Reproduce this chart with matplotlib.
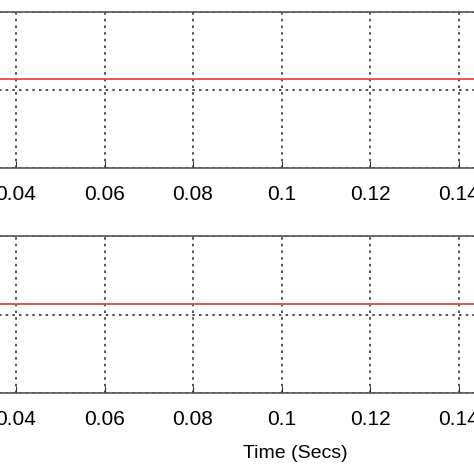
import matplotlib
matplotlib.use("Agg")
import matplotlib.pyplot as plt

t = [0.0, 0.15]
signal_top = [1.14, 1.14]
signal_bottom = [1.14, 1.14]
xticks = [0.0, 0.02, 0.04, 0.06, 0.08, 0.1, 0.12, 0.14]
xticklabels = ["0", "0.02", "0.04", "0.06", "0.08", "0.1", "0.12", "0.14"]

plt.rcParams['font.family'] = ['Liberation Sans', 'DejaVu Sans']
W = 474.0
fig = plt.figure(figsize=(4.74, 4.74), dpi=100)
pxx = 88.5 / 0.02
left_px = 16 - 0.04 * pxx
width_px = 0.15 * pxx

def make(top, bottom, y):
    ax = fig.add_axes([left_px / W, 1 - bottom / W, width_px / W, (bottom - top) / W])
    ax.plot(t, y, color='#e8474a', lw=1.3, zorder=3)
    ax.set_xlim(0, 0.15)
    ax.set_ylim(0, 2)
    ax.set_yticks([0, 1, 2])
    ax.set_xticks(xticks)
    ax.set_xticklabels(xticklabels, fontsize=15)
    ax.grid(True, linestyle=(0, (1.5, 2.5)), color='#333333', lw=1.2)
    for s in ax.spines.values():
        s.set_color('#555555'); s.set_linewidth(1.2)
    ax.tick_params(axis='x', direction='in', length=5, pad=12, color='#333333')
    return ax

make(12, 168, signal_top)
ax2 = make(236, 393, signal_bottom)
fig.text(295 / W, 1 - 454 / W, "Time (Secs)", ha='center', va='center', fontsize=14)
fig.savefig("out.png", dpi=100)
